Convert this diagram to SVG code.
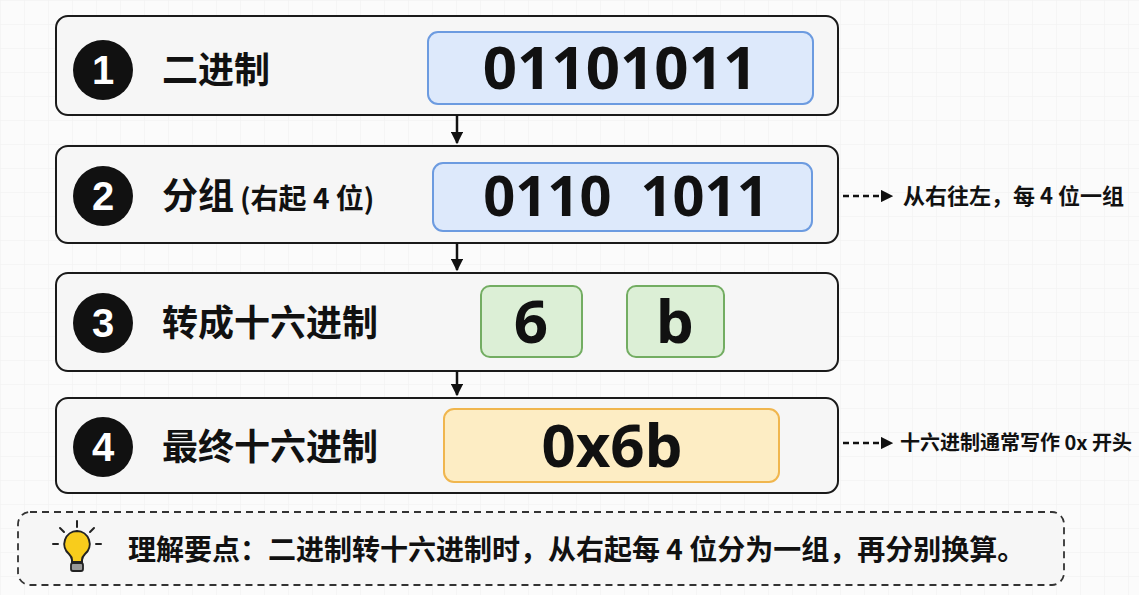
<svg xmlns="http://www.w3.org/2000/svg" width="1139" height="595" viewBox="0 0 1139 595">
<defs>
<pattern id="grid" width="24" height="24" patternUnits="userSpaceOnUse"><path d="M24 0H0V24" fill="none" stroke="#efefef" stroke-width="1"/></pattern>
<marker id="ah" viewBox="0 0 10 10" refX="9" refY="5" markerWidth="5" markerHeight="5" orient="auto"><path d="M0 0L10 5L0 10z" fill="#111"/></marker>
<style>
.step{fill:#f6f6f6;stroke:#1a1a1a;stroke-width:2}
.num{fill:#111}
.numt{fill:#fff;font:bold 40px "Liberation Sans","Noto Sans CJK SC",sans-serif;text-anchor:middle}
.lbl{fill:#111;font:bold 36px "Noto Sans CJK SC",sans-serif}
.blue{fill:#dde9fb;stroke:#6c9be0;stroke-width:2}
.green{fill:#dcefd6;stroke:#73ad62;stroke-width:2}
.yel{fill:#fdedc4;stroke:#f0b64e;stroke-width:2}
.val{fill:#111;font:bold 60px "Noto Sans","Liberation Sans",sans-serif;text-anchor:middle}
.conn{stroke:#111;stroke-width:2.5;fill:none}
.dash{stroke:#111;stroke-width:2.5;fill:none;stroke-dasharray:6 4}
.ann{fill:#111;font:bold 22px "Noto Sans CJK SC",sans-serif}
.note{fill:#111;font:bold 28px "Noto Sans CJK SC",sans-serif}
</style>
</defs>
<rect width="1139" height="595" fill="#fbfbfb"/>
<rect width="1139" height="595" fill="url(#grid)"/>
<g id="step1"><rect class="step" x="56" y="16" width="782" height="99" rx="12"/><circle class="num" cx="103" cy="70" r="30"/><text class="numt" x="103" y="84">1</text><text class="lbl" x="162" y="83">二进制</text><rect class="blue" x="428" y="32" width="385" height="72" rx="10"/><text class="val" x="620" y="89">01101011</text></g>
<g id="step2"><rect class="step" x="56" y="146" width="782" height="97" rx="12"/><circle class="num" cx="103" cy="196" r="30"/><text class="numt" x="103" y="210">2</text><text class="lbl" x="162" y="209">分组<tspan style="font-size:28px" dx="6">(右起 4 位)</tspan></text><rect class="blue" x="433" y="163" width="379" height="68" rx="10"/><text class="val" x="626" y="216" style="font-size:56px" xml:space="preserve">0110  1011</text></g>
<g id="step3"><rect class="step" x="56" y="273" width="782" height="98" rx="12"/><circle class="num" cx="103" cy="323" r="30"/><text class="numt" x="103" y="337">3</text><text class="lbl" x="162" y="336">转成十六进制</text><rect class="green" x="481" y="286" width="101" height="71" rx="9"/><text class="val" x="531" y="343">6</text><rect class="green" x="627" y="286" width="97" height="71" rx="9"/><text class="val" x="675" y="343">b</text></g>
<g id="step4"><rect class="step" x="56" y="398" width="782" height="95" rx="12"/><circle class="num" cx="103" cy="447" r="30"/><text class="numt" x="103" y="461">4</text><text class="lbl" x="162" y="460">最终十六进制</text><rect class="yel" x="444" y="409" width="335" height="73" rx="10"/><text class="val" x="612" y="467">0x6b</text></g>
<g id="note"><rect x="18" y="512" width="1046" height="73" rx="12" fill="#f6f6f6" stroke="#333" stroke-width="1.8" stroke-dasharray="7 5"/>
<g stroke="#222" stroke-width="2" stroke-linecap="round"><line x1="77" y1="521" x2="77" y2="527"/><line x1="60" y1="528" x2="64" y2="532"/><line x1="94" y1="528" x2="90" y2="532"/><line x1="53" y1="544" x2="58" y2="544"/><line x1="96" y1="544" x2="101" y2="544"/></g>
<path d="M77 531a13 13 0 0 0-8 23c2 2 3 4 3 6v2h10v-2c0-2 1-4 3-6a13 13 0 0 0-8-23z" fill="#f8cc1c" stroke="#222" stroke-width="2"/>
<rect x="71" y="563" width="12" height="8" rx="2" fill="#999" stroke="#222" stroke-width="1.8"/>
<text class="note" x="128" y="560">理解要点：二进制转十六进制时，从右起每 4 位分为一组，再分别换算。</text></g>
<g id="connectors">
<line class="conn" x1="457" y1="115" x2="457" y2="143" marker-end="url(#ah)"/>
<line class="conn" x1="457" y1="243" x2="457" y2="270" marker-end="url(#ah)"/>
<line class="conn" x1="457" y1="371" x2="457" y2="395" marker-end="url(#ah)"/>
<line class="dash" x1="843" y1="196" x2="892" y2="196" marker-end="url(#ah)"/>
<line class="dash" x1="843" y1="443" x2="892" y2="443" marker-end="url(#ah)"/>
</g>
<text class="ann" x="903" y="204">从右往左，每 4 位一组</text>
<text class="ann" x="900" y="450" style="font-size:20px">十六进制通常写作 0x 开头</text>
</svg>
